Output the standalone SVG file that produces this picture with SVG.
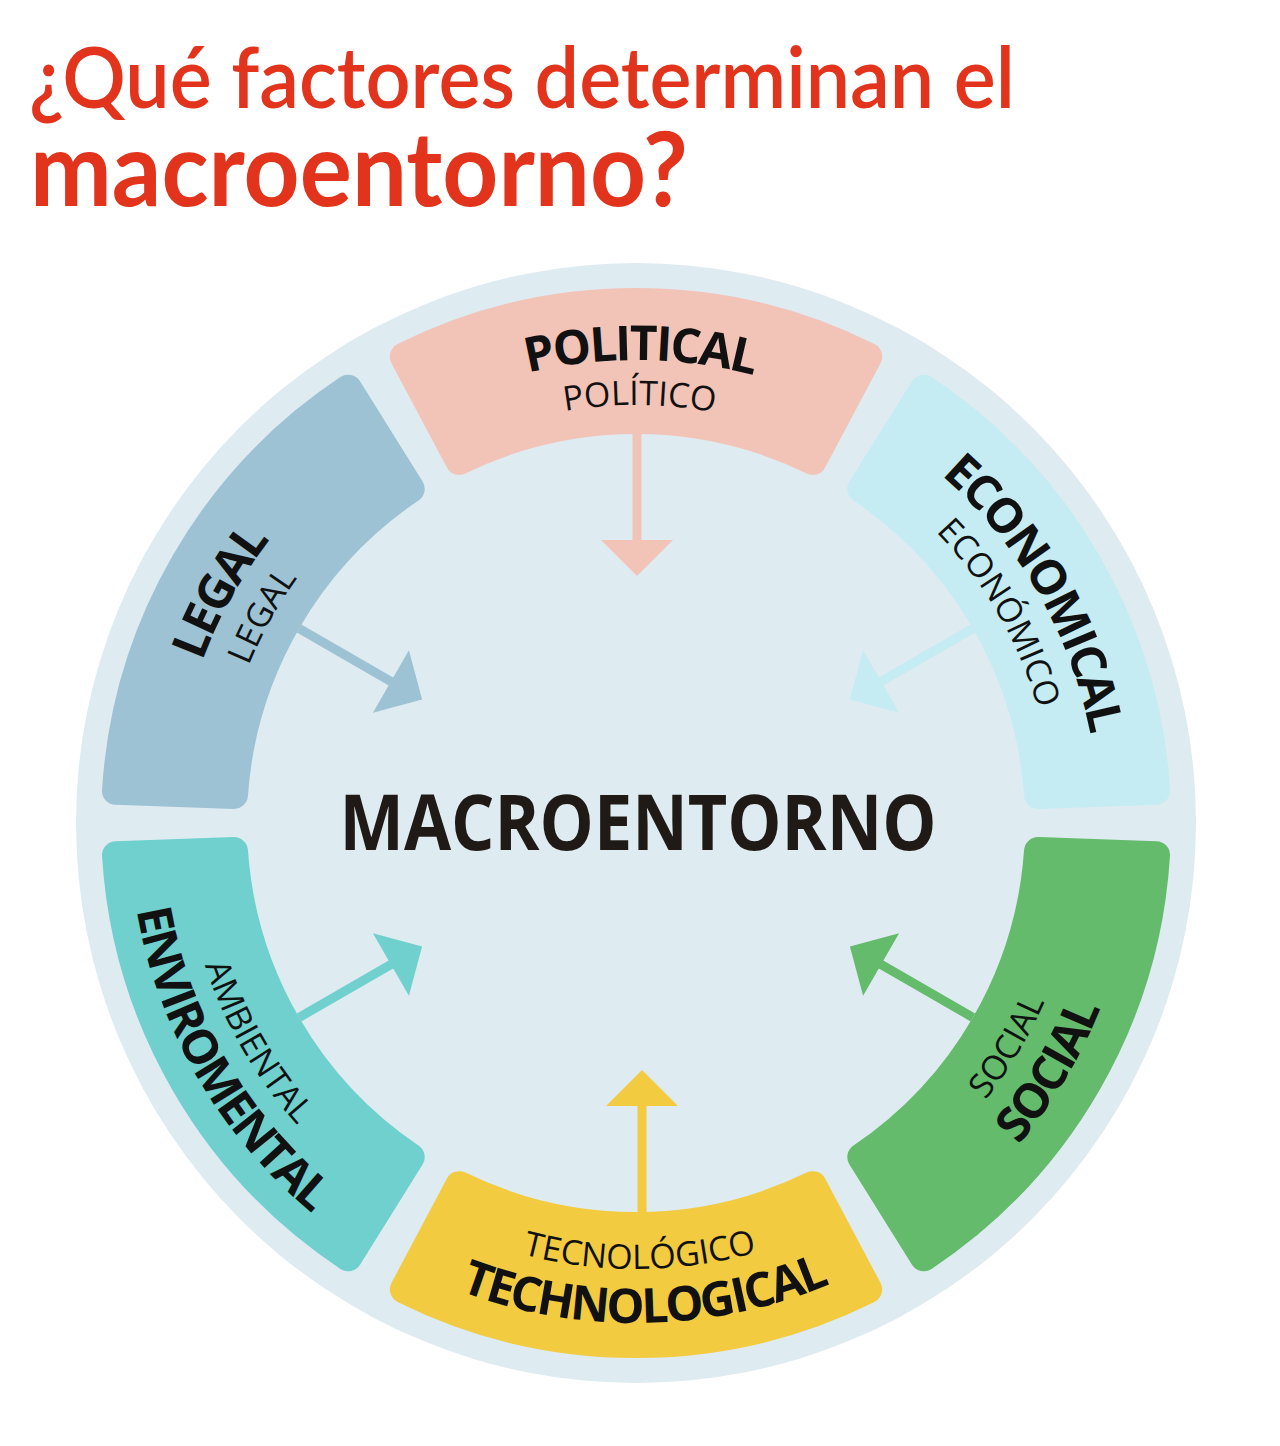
<svg xmlns="http://www.w3.org/2000/svg" xmlns:xlink="http://www.w3.org/1999/xlink" width="1280" height="1446" viewBox="0 0 1280 1446">
<style>
.title{font-family:Lato,"Open Sans","Noto Sans",sans-serif;fill:#e2341c}
.lb{font-family:"Open Sans","Noto Sans",sans-serif;font-weight:700;font-size:48px;letter-spacing:-2.2px;fill:#111111}
.lr{font-family:"Open Sans","Noto Sans",sans-serif;font-weight:400;font-size:34px;fill:#111111}
.center{font-family:"Open Sans","Noto Sans",sans-serif;font-weight:700;font-size:77px;fill:#201a17}
</style>
<defs>
<path id="seg" d="M403.85,356.58 A521,521 0 0 1 868.15,356.58 L812.73,460.82 A403,403 0 0 0 459.27,460.82 Z" stroke-width="28" stroke-linejoin="round"/>
<path id="topB" d="M338.39,468.32 A463,463 0 0 1 933.61,468.32" fill="none"/>
<path id="topR" d="M367.31,502.80 A418,418 0 0 1 904.69,502.80" fill="none"/>
<path id="botB" d="M314.60,1206.02 A500,500 0 0 0 957.40,1206.02" fill="none"/>
<path id="botR" d="M349.32,1164.65 A446,446 0 0 0 922.68,1164.65" fill="none"/>
<path id="envB" d="M310.11,1211.38 A507,507 0 0 0 961.89,1211.38" fill="none"/>
<path id="envR" d="M344.17,1170.78 A454,454 0 0 0 927.83,1170.78" fill="none"/>
<g id="arr">
<line x1="636" y1="434" x2="636" y2="541" stroke-width="9"/>
<polygon points="600,540 672,540 636,576" stroke="none"/>
</g>
</defs>
<rect width="1280" height="1446" fill="#ffffff"/>
<g id="title">
<text class="title" x="29" y="108" font-size="84" font-weight="600" textLength="986" lengthAdjust="spacingAndGlyphs">¿Qué factores determinan el</text>
<text class="title" x="30" y="206" font-size="103" font-weight="700" textLength="658" lengthAdjust="spacingAndGlyphs">macroentorno?</text>
</g>
<circle id="backdrop" cx="636" cy="823" r="560" fill="#deebf1"/>
<g id="political">
<use href="#seg" fill="#f2c3b7" stroke="#f2c3b7"/>
<text class="lb" text-anchor="middle" transform="rotate(0.5 636 823)"><textPath href="#topB" startOffset="50%">POLITICAL</textPath></text>
<text class="lr" text-anchor="middle" transform="rotate(0.5 636 823)"><textPath href="#topR" startOffset="50%">POLÍTICO</textPath></text>
</g>
<g id="economical">
<use href="#seg" fill="#c4ecf2" stroke="#c4ecf2" transform="rotate(60 636 823)"/>
<text class="lb" text-anchor="middle" transform="rotate(60 636 823)"><textPath href="#topB" startOffset="50%">ECONOMICAL</textPath></text>
<text class="lr" text-anchor="middle" transform="rotate(60 636 823)"><textPath href="#topR" startOffset="50%">ECONÓMICO</textPath></text>
</g>
<g id="social">
<use href="#seg" fill="#64bb6b" stroke="#64bb6b" transform="rotate(120 636 823)"/>
<text class="lb" text-anchor="middle" transform="rotate(-59 636 823)"><textPath href="#botB" startOffset="50%">SOCIAL</textPath></text>
<text class="lr" text-anchor="middle" transform="rotate(-59 636 823)"><textPath href="#botR" startOffset="50%">SOCIAL</textPath></text>
</g>
<g id="technological">
<use href="#seg" fill="#f2cb40" stroke="#f2cb40" transform="rotate(180 636 823)"/>
<text class="lb" text-anchor="middle" transform="rotate(-1 636 823)"><textPath href="#botB" startOffset="50%">TECHNOLOGICAL</textPath></text>
<text class="lr" text-anchor="middle" transform="rotate(-0.5 636 823)"><textPath href="#botR" startOffset="50%">TECNOLÓGICO</textPath></text>
</g>
<g id="enviromental">
<use href="#seg" fill="#6fd0cd" stroke="#6fd0cd" transform="rotate(240 636 823)"/>
<text class="lb" text-anchor="middle" transform="rotate(60 636 823)"><textPath href="#envB" startOffset="50%">ENVIROMENTAL</textPath></text>
<text class="lr" text-anchor="middle" transform="rotate(60 636 823)"><textPath href="#envR" startOffset="50%">AMBIENTAL</textPath></text>
</g>
<g id="legal">
<use href="#seg" fill="#9dc2d3" stroke="#9dc2d3" transform="rotate(300 636 823)"/>
<text class="lb" text-anchor="middle" transform="rotate(-61 636 823)"><textPath href="#topB" startOffset="50%">LEGAL</textPath></text>
<text class="lr" text-anchor="middle" transform="rotate(-61 636 823)"><textPath href="#topR" startOffset="50%">LEGAL</textPath></text>
</g>
<g id="macroentorno">
<text class="center" x="638" y="850" text-anchor="middle" textLength="597" lengthAdjust="spacingAndGlyphs">MACROENTORNO</text>
</g>
<g id="connectors">
<use href="#arr" fill="#f2c3b7" stroke="#f2c3b7" transform="translate(1 0)"/>
<use href="#arr" fill="#c4ecf2" stroke="#c4ecf2" transform="rotate(60 636 823)"/>
<use href="#arr" fill="#64bb6b" stroke="#64bb6b" transform="rotate(120 636 823)"/>
<use href="#arr" fill="#f2cb40" stroke="#f2cb40" transform="translate(6 0) rotate(180 636 823)"/>
<use href="#arr" fill="#6fd0cd" stroke="#6fd0cd" transform="rotate(240 636 823)"/>
<use href="#arr" fill="#9dc2d3" stroke="#9dc2d3" transform="rotate(300 636 823)"/>
</g>
</svg>
